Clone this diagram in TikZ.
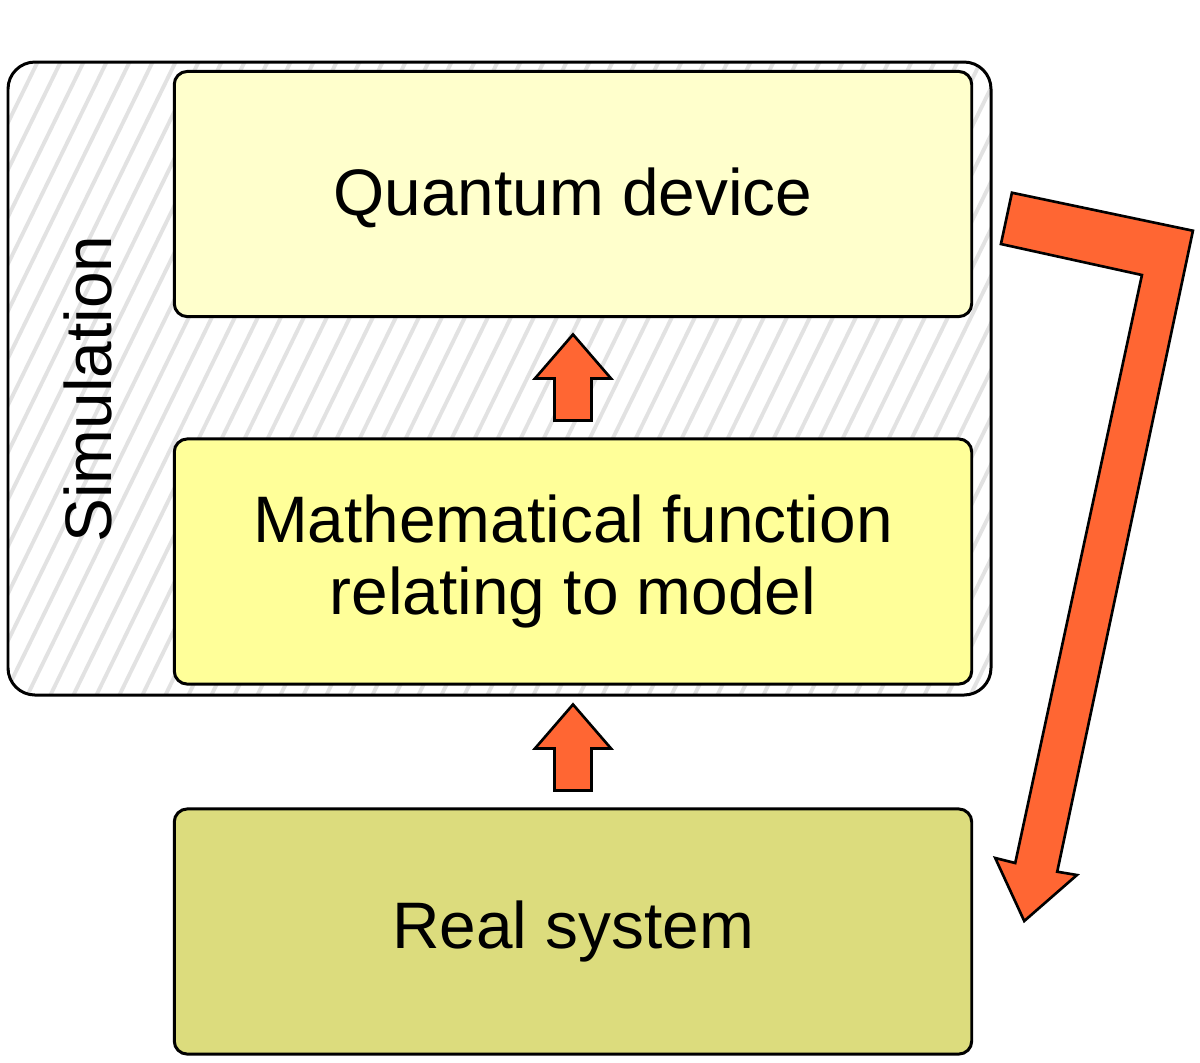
\documentclass[tikz,border=0pt]{standalone}
\usepackage{fontspec}
\setmainfont{Liberation Sans}
\usepackage{xcolor}
\usetikzlibrary{calc}

\definecolor{qdfill}{RGB}{255,255,204}
\definecolor{mffill}{RGB}{255,255,153}
\definecolor{rsfill}{RGB}{220,220,125}
\definecolor{arrowfill}{RGB}{255,102,51}
\definecolor{hatchgray}{RGB}{226,226,226}

\begin{document}
\begin{tikzpicture}[x=0.01cm, y=-0.01cm,
  box/.style={draw, line width=0.85pt, rounded corners=0.13cm, minimum width=7.97cm, minimum height=2.45cm,
    align=center, inner sep=0pt, font=\fontsize{18.7}{20.4}\selectfont},
  fatarrow/.style={draw, line width=0.75pt, fill=arrowfill, line join=miter}]
  \useasboundingbox (0,0) rectangle (1200,1062);
  % Simulation frame (hatched)
  \begin{scope}
    \clip[rounded corners=0.27cm] (8,62) rectangle (991,695);
    \fill[white] (8,62) rectangle (991,695);
    \foreach \x in {-320,-297,...,1000} {
      \draw[hatchgray, line width=1.1pt] (\x,700) -- (\x+315,55);
    }
  \end{scope}
  \draw[line width=0.85pt, rounded corners=0.27cm] (8,62) rectangle (991,695);
  \node[rotate=90, font=\fontsize{18.7}{20.4}\selectfont] (sim) at (88,389) {Simulation};
  % Boxes
  \node[box, fill=qdfill] (quantum) at (573,194) {\raisebox{-0.04cm}[\height][\depth]{Quantum device}};
  \node[box, fill=mffill] (math) at (573,561.5) {Mathematical function\\relating to model};
  \node[box, fill=rsfill] (real) at (573,931.5) {Real system};
  % Upward arrows
  \foreach \blk in {math, real} {
    \draw[fatarrow, shift={(\blk.north)}] (-18.5,-17) -- (-18.5,-59) -- (-38,-59) -- (0,-103)
      -- (38,-59) -- (18.5,-59) -- (18.5,-17) -- cycle;
  }
  % Bent arrow back to the real system
  \draw[fatarrow] ($(quantum.east)+(38.7,-1.3)$) -- ($(quantum.east)+(219.7,36.7)$)
    -- ($(real.east)+(84,-59.8)$) -- ($(real.east)+(103.7,-56.5)$) -- ($(real.east)+(51,-10.5)$)
    -- ($(real.east)+(22,-73.5)$) -- ($(real.east)+(42,-68.5)$)
    -- ($(quantum.east)+(168.7,81)$) -- ($(quantum.east)+(27.7,50)$) -- cycle;
\end{tikzpicture}
\end{document}
